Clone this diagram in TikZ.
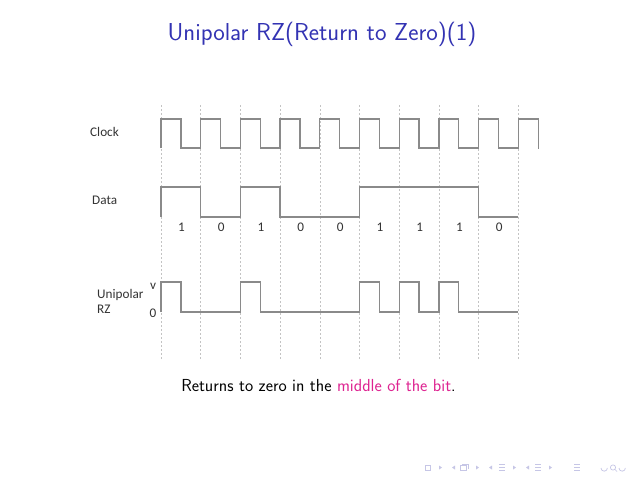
\documentclass[tikz,border=0pt]{standalone}
\usepackage{fontspec}
\newfontfamily\calib{Carlito}
\definecolor{titleblue}{RGB}{51,51,179}
\definecolor{alertmag}{RGB}{222,35,145}
\definecolor{wavec}{RGB}{138,138,138}
\definecolor{gridc}{RGB}{195,195,195}
\definecolor{navc}{RGB}{198,198,230}
\tikzset{
  wave/.style={draw=wavec, line width=1.3pt, line join=miter},
  gridline/.style={draw=gridc, line width=0.6pt, dash pattern=on 2pt off 2pt},
  lbl/.style={font=\calib\fontsize{13.2}{15}\selectfont, text=black!80, inner sep=0pt},
  navs/.style={draw=navc, fill=navc, line width=0.6pt},
}
\begin{document}
\begin{tikzpicture}[x=1pt, y=-1pt]
\useasboundingbox[fill=white] (0,0) rectangle (638,479);
% title
\node[anchor=base, text=titleblue, inner sep=0pt, font=\sffamily\fontsize{24.5}{29}\selectfont] (title) at (322,40) {Unipolar RZ(Return to Zero)(1)};
% grid lines
\foreach \i in {0,...,9} {
  \draw[gridline] ({161+39.7*\i},105) -- ({161+39.7*\i},360);
}
% clock
\draw[wave] (161,148) -- (161,119)
  \foreach \i in {0,...,8} { -- ++(19.85,0) -- ++(0,29) -- ++(19.85,0) -- ++(0,-29) }
  -- ++(19.85,0) -- ++(0,30);
% data
\draw[wave] (161,217) -- (161,187) -- (200.7,187) -- (200.7,217) -- (240.4,217)
  -- (240.4,187) -- (280.1,187) -- (280.1,217) -- (359.5,217) -- (359.5,187)
  -- (478.6,187) -- (478.6,217) -- (518.3,217);
% unipolar RZ
\draw[wave] (161,312) -- (161,282) -- (181,282) -- (181,312) -- (240.4,312)
  -- (240.4,282) -- (260.3,282) -- (260.3,312) -- (359.5,312) -- (359.5,282)
  -- (379.4,282) -- (379.4,312) -- (399.2,312) -- (399.2,282) -- (419.1,282)
  -- (419.1,312) -- (438.9,312) -- (438.9,282) -- (458.8,282) -- (458.8,312)
  -- (518.3,312);
% labels
\node[lbl, anchor=west] (lclk) at (90,132) {Clock};
\node[lbl, anchor=west] (ldata) at (92,200) {Data};
\node[lbl, anchor=west] (lu1) at (97,295) {Unipolar};
\node[lbl, anchor=west] (lu2) at (97,309) {RZ};
\node[lbl] (lv) at (153,286) {v};
\node[lbl] (l0) at (153,313) {0};
\foreach \b [count=\k from 0] in {1,0,1,0,0,1,1,1,0} {
  \node[lbl] (bit\k) at ({181.5+39.7*\k},227.5) {\b};
}
% bottom text
\node[anchor=base, inner sep=0pt, font=\sffamily\fontsize{17.4}{21}\selectfont] (note) at (318.5,391) {Returns to zero in the \textcolor{alertmag}{middle of the bit}.};
% navigation symbols (approximate)
\draw[navc, line width=0.7pt] (425,465) rectangle (430,470);
\fill[navc] (439,465.5) -- (442,467.5) -- (439,469.5) -- cycle;
\fill[navc] (455,465.5) -- (452,467.5) -- (455,469.5) -- cycle;
\draw[navc, line width=0.7pt] (460,465.5) rectangle (466,470.5) (462,464) -- (468,464) -- (468,469);
\fill[navc] (476,465.5) -- (479,467.5) -- (476,469.5) -- cycle;
\fill[navc] (492,465.5) -- (489,467.5) -- (492,469.5) -- cycle;
\draw[navc, line width=0.7pt] (499,464.5) -- (505,464.5) (499,467.5) -- (505,467.5) (499,470.5) -- (505,470.5);
\fill[navc] (513,465.5) -- (516,467.5) -- (513,469.5) -- cycle;
\fill[navc] (529,465.5) -- (526,467.5) -- (529,469.5) -- cycle;
\draw[navc, line width=0.7pt] (535,464.5) -- (541,464.5) (535,467.5) -- (541,467.5) (535,470.5) -- (541,470.5);
\fill[navc] (549,465.5) -- (552,467.5) -- (549,469.5) -- cycle;
\draw[navc, line width=0.7pt] (574,464.5) -- (580,464.5) (574,467.5) -- (580,467.5) (574,470.5) -- (580,470.5);
\draw[navc, line width=0.7pt] (601,468) arc (180:0:3.2);
\draw[navc, line width=0.7pt] (613,467.5) circle (2.6) (615,469.5) -- (617,471.5);
\draw[navc, line width=0.7pt] (619,468) arc (180:0:3.2);
\end{tikzpicture}
\end{document}
